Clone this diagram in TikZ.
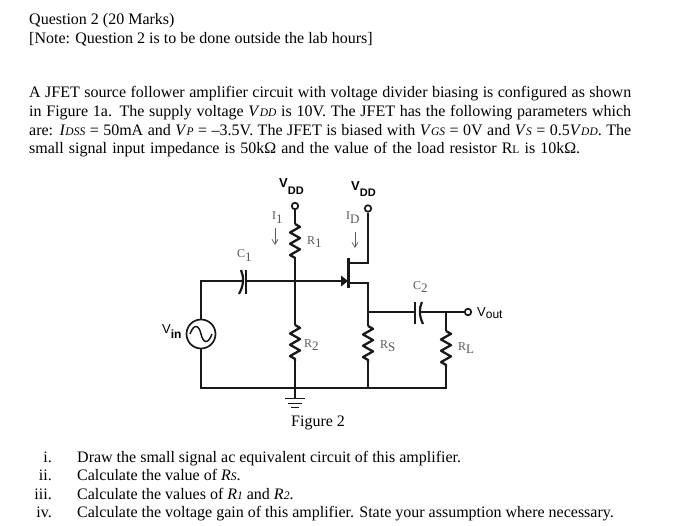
\documentclass[tikz,border=0pt]{standalone}
\usepackage{fontspec}
\setmainfont{Liberation Serif}
\newfontfamily\lblsans{Liberation Sans}
\usetikzlibrary{decorations.pathmorphing,arrows.meta}
\newcommand{\sv}[2]{\textit{#1}{\fontsize{11.5pt}{12pt}\selectfont\textit{#2}}}
\newcommand{\rmsub}[2]{#1{\fontsize{11.5pt}{12pt}\selectfont #2}}
\newcommand{\gsub}[2]{#1\raisebox{-3.5pt}{\fontsize{13pt}{14pt}\selectfont #2}}
\newcommand{\jline}[1]{\makebox[602pt][s]{#1}}
\tikzset{
  wire/.style={line width=1.8pt,black!90,line join=miter},
  res/.style={line width=2.3pt,black!90,line join=round,decorate,decoration={zigzag,segment length=11.3pt,amplitude=5pt,pre length=0pt,post length=0pt}},
  plate/.style={line width=2.2pt,black!90},
  term/.style={circle,draw=black!90,line width=1.7pt,fill=white,inner sep=0pt,minimum size=6.5pt},
  txt/.style={anchor=base west,inner sep=0pt,font=\fontsize{16pt}{18pt}\selectfont,black},
  lst/.style={anchor=base east,inner sep=0pt,font=\fontsize{16pt}{18pt}\selectfont,black},
  glbl/.style={anchor=base west,inner sep=0pt,font=\fontsize{12pt}{14pt}\selectfont,black!65},
  slbl/.style={anchor=base west,inner sep=0pt,font=\lblsans\fontsize{13pt}{14pt}\selectfont,black},
  cur/.style={line width=0.7pt,black!65,-{Straight Barb[length=5pt,width=6pt]}},
}
\begin{document}
\begin{tikzpicture}[x=1pt,y=-1pt]
\useasboundingbox (0,0) rectangle (676,526);
% text
\node[txt] (q) at (29,25) {Question 2 (20 Marks)};
\node[txt] (n) at (29,44) {[Note: Question 2 is to be done outside the lab hours]};
\node[txt] (p1) at (29,98) {\jline{A JFET source follower amplifier circuit with voltage divider biasing is configured as shown}};
\node[txt] (p2) at (29,117) {\jline{in Figure 1a. The supply voltage \sv{V}{DD} is 10V. The JFET has the following parameters which}};
\node[txt] (p3) at (29,136) {\jline{are: \sv{I}{DSS} = 50mA and \sv{V}{P} = --3.5V. The JFET is biased with \sv{V}{GS} = 0V and \sv{V}{S} = 0.5\sv{V}{DD}. The}};
\node[txt] (p4) at (29,154) {\makebox[551pt][s]{small signal input impedance is 50kΩ and the value of the load resistor \rmsub{R}{L} is 10kΩ.}};
\node[txt] (fig) at (291,426) {Figure 2};
\node[lst] (i1) at (52,462) {i.};
\node[lst] (i2) at (52,480) {ii.};
\node[lst] (i3) at (52,499) {iii.};
\node[lst] (i4) at (52,517) {iv.};
\node[txt] (t1) at (77,462) {Draw the small signal ac equivalent circuit of this amplifier.};
\node[txt] (t2) at (77,480) {Calculate the value of \sv{R}{S}.};
\node[txt] (t3) at (77,499) {Calculate the values of \sv{R}{1} and \sv{R}{2}.};
\node[txt] (t4) at (77,517) {Calculate the voltage gain of this amplifier. State your assumption where necessary.};
% circuit points
\coordinate (vinT) at (201,281);
\coordinate (vinB) at (201,388);
\coordinate (c1L) at (243,281);
\coordinate (c1R) at (246,281);
\coordinate (j1) at (295,281);
\coordinate (gate) at (345,281);
\coordinate (r1T) at (295,224);
\coordinate (r1B) at (295,258);
\coordinate (r2T) at (295,325);
\coordinate (r2B) at (295,361);
\coordinate (gnd) at (295,388);
\coordinate (gnd0) at (295,398);
\coordinate (dIn) at (349,263);
\coordinate (dC) at (368,263);
\coordinate (sIn) at (349,283);
\coordinate (sC) at (368,283);
\coordinate (sJ) at (368,312);
\coordinate (c2L) at (415,312);
\coordinate (c2R) at (419,312);
\coordinate (rlJ) at (446,312);
\coordinate (rsT) at (368,326);
\coordinate (rsB) at (368,362);
\coordinate (rsG) at (368,388);
\coordinate (rlT) at (446,331);
\coordinate (rlB) at (446,367);
\coordinate (rlG) at (446,388);
% terminals and source
\node[term] (vdd1) at (295,206) {};
\node[term] (vdd2) at (368,208.5) {};
\node[term] (vout) at (468,312) {};
\node[circle,draw=black!90,line width=1.7pt,minimum size=29pt,inner sep=0pt] (src) at (201,334) {};
\draw[line width=1.5pt,black!90] (190,334) .. controls (194,323) and (199,325) .. (201,334) .. controls (203,343) and (208,345) .. (212,334);
% wires
\draw[wire] (src.north) -- (vinT) -- (c1L);
\draw[wire] (src.south) -- (vinB) -- (rlG) -- (rlB);
\draw[wire] (c1R) -- (gate);
\draw[wire] (vdd1) -- (r1T);
\draw[wire] (r1B) -- (j1) -- (r2T);
\draw[wire] (r2B) -- (gnd) -- (gnd0);
\draw[wire] (vdd2) -- (dC) -- (dIn);
\draw[wire] (sIn) -- (sC) -- (sJ) -- (c2L);
\draw[wire] (sJ) -- (rsT);
\draw[wire] (rsB) -- (rsG);
\draw[wire] (c2R) -- (vout);
\draw[wire] (rlJ) -- (rlT);
% resistors
\draw[res] (r1T) -- (r1B);
\draw[res] (r2T) -- (r2B);
\draw[res] (rsT) -- (rsB);
\draw[res] (rlT) -- (rlB);
% capacitors
\draw[plate] (246,270) -- (246,294);
\draw[plate] (241,270) .. controls (244,277) and (244,285) .. (239,294);
\draw[plate] (415,302) -- (415,324);
\draw[plate] (422,302) .. controls (419,308) and (419,316) .. (423,324);
% JFET
\draw[line width=2.6pt,black!90] (348.5,258) -- (348.5,288);
\fill[black!90] (348,281) -- (341,275.5) -- (341,286.5) -- cycle;
% ground
\draw[wire] (285,398.5) -- (305,398.5);
\draw[wire] (288,403.5) -- (302,403.5);
\draw[wire] (291,407.5) -- (299,407.5);
% current arrows
\coordinate (i1a) at (275,228); \coordinate (i1b) at (275,245);
\coordinate (ida) at (355,232); \coordinate (idb) at (355,248);
\draw[cur] (i1a) -- (i1b);
\draw[cur] (ida) -- (idb);
% labels
\node[glbl] (li1) at (272,220) {\gsub{I}{1}};
\node[glbl] (lid) at (346,220) {\gsub{I}{D}};
\node[glbl] (lr1) at (307,244) {\gsub{R}{1}};
\node[glbl] (lr2) at (304,347) {\gsub{R}{2}};
\node[glbl] (lc1) at (237,258) {\gsub{C}{1}};
\node[glbl] (lc2) at (413,289) {\gsub{C}{2}};
\node[glbl] (lrs) at (380,348) {\gsub{R}{S}};
\node[glbl] (lrl) at (458,350) {\gsub{R}{L}};
\node[slbl] (lv1) at (279,188) {\textbf{V\raisebox{-7pt}{\fontsize{11pt}{12pt}\selectfont DD}}};
\node[slbl] (lv2) at (351,191) {\textbf{V\raisebox{-6pt}{\fontsize{11pt}{12pt}\selectfont DD}}};
\node[slbl] (lvin) at (162,333) {V\raisebox{-5pt}{\fontsize{12pt}{12pt}\selectfont\bfseries in}};
\node[slbl] (lvo) at (477,316) {V\raisebox{-2pt}{\fontsize{12pt}{12pt}\selectfont out}};
\end{tikzpicture}
\end{document}
